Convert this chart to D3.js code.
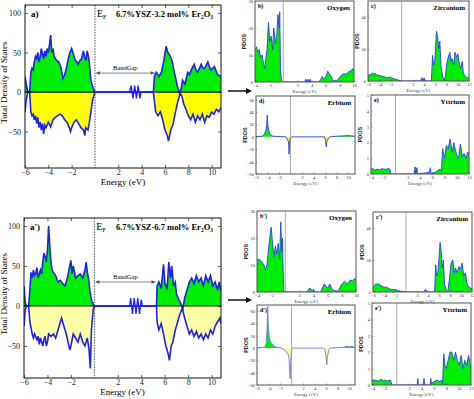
<!DOCTYPE html>
<html>
<head>
<meta charset="utf-8">
<script src="https://cdn.jsdelivr.net/npm/d3@7"></script>
<style>
  body { margin: 0; background: #fff; }
  svg { display: block; }
</style>
</head>
<body>
<svg id="fig" width="474" height="399"></svg>
<script>
// total DOS, 6.7%YSZ-3.2 mol% Er2O3  [energy eV, states]
var aUp = [[-6,20],[-5.9,10],[-5.75,0],[-5.6,0],[-5.5,25],[-5.4,30],[-5.3,28],[-5.2,38],[-5.1,45],[-5,42],[-4.9,50],[-4.8,38],[-4.7,45],[-4.6,55],[-4.5,48],[-4.4,42],[-4.3,52],[-4.2,45],[-4.1,55],[-4,50],[-3.9,60],[-3.8,72],[-3.7,50],[-3.6,55],[-3.5,45],[-3.3,40],[-3.1,38],[-2.9,30],[-2.75,17],[-2.6,22],[-2.45,30],[-2.3,42],[-2.15,50],[-2,55],[-1.85,48],[-1.7,40],[-1.55,38],[-1.45,35],[-1.3,40],[-1.15,42],[-1,52],[-0.9,45],[-0.78,40],[-0.67,52],[-0.5,40],[-0.36,15],[-0.16,5],[0,0],[5.0,0],[5.1,20],[5.25,25],[5.4,22],[5.5,20],[5.7,25],[5.9,40],[6.1,58],[6.25,50],[6.45,45],[6.6,40],[6.8,25],[6.95,15],[7.1,5],[7.25,-2],[7.4,5],[7.5,15],[7.7,10],[7.95,25],[8.1,22],[8.25,28],[8.5,35],[8.65,28],[8.8,25],[9.1,35],[9.25,30],[9.4,30],[9.67,38],[9.8,32],[9.95,28],[10.24,32],[10.5,22],[10.8,20]];
var aDown = [[-6,-25],[-5.9,-10],[-5.75,0],[-5.6,0],[-5.5,-25],[-5.4,-30],[-5.3,-28],[-5.2,-35],[-5.1,-30],[-5,-40],[-4.9,-32],[-4.8,-45],[-4.7,-38],[-4.6,-48],[-4.5,-40],[-4.4,-53],[-4.3,-42],[-4.2,-45],[-4,-38],[-3.8,-44],[-3.6,-35],[-3.4,-32],[-3.2,-30],[-3,-28],[-2.8,-30],[-2.6,-35],[-2.4,-38],[-2.2,-45],[-2.1,-50],[-2,-45],[-1.8,-38],[-1.6,-35],[-1.4,-40],[-1.2,-45],[-1,-48],[-0.87,-55],[-0.8,-45],[-0.6,-48],[-0.5,-40],[-0.35,-25],[-0.2,-10],[0,0],[5.0,0],[5.2,-25],[5.4,-30],[5.6,-25],[5.8,-35],[6.0,-48],[6.2,-55],[6.3,-62],[6.5,-48],[6.7,-40],[6.9,-25],[7.1,-12],[7.3,-2],[7.45,-5],[7.6,-15],[7.8,-22],[8.0,-30],[8.2,-35],[8.4,-28],[8.6,-38],[8.8,-30],[9.0,-35],[9.2,-28],[9.4,-38],[9.6,-30],[9.8,-32],[10.0,-25],[10.2,-28],[10.4,-22],[10.6,-25],[10.8,-20]];
var aWiggle = [[2.95,0],[3.1,8],[3.25,-8],[3.4,8],[3.55,-8],[3.7,8],[3.85,-8],[3.95,0]];

// total DOS, 6.7%YSZ-6.7 mol% Er2O3
var a2Up = [[-6,25],[-5.9,5],[-5.8,0],[-5.6,0],[-5.5,20],[-5.4,42],[-5.3,35],[-5.2,45],[-5.1,38],[-5,40],[-4.9,48],[-4.8,35],[-4.7,40],[-4.6,45],[-4.5,40],[-4.4,55],[-4.3,66],[-4.2,62],[-4.1,55],[-4,70],[-3.9,100],[-3.8,75],[-3.7,55],[-3.6,45],[-3.5,42],[-3.3,38],[-3.1,30],[-2.9,32],[-2.7,28],[-2.5,25],[-2.3,35],[-2.1,50],[-2,57],[-1.9,40],[-1.8,50],[-1.6,35],[-1.4,38],[-1.2,40],[-1,35],[-0.8,45],[-0.7,55],[-0.6,42],[-0.5,35],[-0.35,15],[-0.2,5],[0,0],[5.3,0],[5.35,25],[5.5,30],[5.7,22],[5.9,52],[6.0,30],[6.2,20],[6.35,55],[6.5,35],[6.6,50],[6.75,25],[6.9,30],[7.0,15],[7.2,8],[7.4,2],[7.55,-3],[7.7,10],[7.9,20],[8.1,30],[8.3,35],[8.5,28],[8.7,38],[8.9,30],[9.1,35],[9.3,25],[9.5,38],[9.7,30],[9.9,38],[10.1,25],[10.3,30],[10.5,20],[10.65,30],[10.8,18]];
var a2Down = [[-6,-25],[-5.9,-5],[-5.8,0],[-5.6,0],[-5.5,-20],[-5.3,-35],[-5.2,-40],[-5.1,-35],[-4.9,-42],[-4.8,-38],[-4.7,-48],[-4.6,-40],[-4.5,-45],[-4.4,-50],[-4.3,-42],[-4.2,-38],[-4.1,-50],[-4,-45],[-3.9,-35],[-3.7,-38],[-3.5,-35],[-3.3,-40],[-3.1,-30],[-2.9,-20],[-2.8,-15],[-2.6,-25],[-2.4,-35],[-2.2,-48],[-2.1,-55],[-2,-50],[-1.8,-35],[-1.6,-40],[-1.4,-45],[-1.2,-35],[-1,-45],[-0.8,-50],[-0.6,-40],[-0.45,-55],[-0.35,-78],[-0.25,-30],[-0.1,-5],[0,0],[5.3,0],[5.35,-20],[5.5,-30],[5.7,-22],[5.9,-35],[6.1,-50],[6.3,-60],[6.4,-68],[6.55,-50],[6.7,-45],[6.9,-30],[7.1,-20],[7.3,-10],[7.5,-3],[7.7,-15],[7.9,-25],[8.1,-35],[8.3,-30],[8.5,-38],[8.7,-32],[8.9,-40],[9.1,-35],[9.3,-42],[9.5,-35],[9.7,-40],[9.9,-30],[10.1,-35],[10.3,-25],[10.5,-20],[10.7,-15],[10.8,-22]];
var a2Wiggle = [[3.0,0],[3.1,10],[3.25,-10],[3.4,10],[3.55,-10],[3.7,10],[3.85,-10],[4.0,8],[4.1,0]];

// PDOS panels
var bOxygen = [[-4,12],[-3.8,13],[-3.6,11],[-3.4,12],[-3.2,9],[-3,10],[-2.8,7],[-2.6,5],[-2.5,8],[-2.3,12],[-2.1,22],[-1.9,15],[-1.7,17],[-1.5,12],[-1.35,20],[-1.1,14],[-0.9,18],[-0.75,25],[-0.6,20],[-0.5,26],[-0.4,5],[-0.3,2],[-0.2,0],[3.0,0],[3.2,1],[3.35,0],[3.5,1],[3.65,0],[3.8,1],[3.9,0],[5.0,0],[5.3,1],[5.5,2],[5.7,1],[6.0,2],[6.3,4],[6.5,3],[6.8,2],[7.0,0.5],[7.5,0.5],[7.8,1],[8.0,2],[8.5,3],[9.0,3],[9.3,4],[9.6,4],[9.8,5],[10,4]];
var cZirconium = [[-6,2],[-5.8,4],[-5.5,4],[-5.2,5],[-5,4],[-4.8,5],[-4.5,4],[-4,3.5],[-3.5,3],[-3,2.5],[-2.5,2],[-2,2.5],[-1.8,2],[-1.5,1.5],[-1,1],[-0.5,0.5],[0,0],[3.4,0],[3.6,2],[3.8,0],[4.0,2],[4.2,0],[5.3,0],[5.5,16],[5.7,10],[5.9,12],[6.2,31],[6.4,28],[6.6,20],[6.8,25],[7.0,10],[7.2,5],[7.4,2],[7.6,0.5],[7.8,3],[8.0,10],[8.3,15],[8.6,18],[8.8,12],[9.0,14],[9.3,10],[9.5,18],[9.8,15],[10.0,17],[10.2,12],[10.5,8],[10.8,12],[11.0,5],[11.3,3],[11.6,2],[12,2]];
var dErbium = [[-6,0.5],[-5,1],[-4.7,2],[-4.5,5],[-4.3,10],[-4.15,18],[-4.05,35],[-3.95,20],[-3.8,10],[-3.6,5],[-3.3,2],[-3,1],[-2,0.5],[-0.8,0],[-0.7,-2],[-0.5,-5],[-0.35,-8],[-0.25,-28],[-0.15,-6],[0,-2],[0.2,0],[5.9,0],[6.0,-3],[6.1,-8],[6.2,-16],[6.3,-8],[6.45,-5],[6.6,-2],[6.8,0],[8.0,1],[9.0,1.5],[10.0,2],[11.2,1]];
var eYttrium = [[-4,0.3],[-3.7,0.35],[-3.4,0.25],[-3,0.3],[-2.5,0.25],[-2.2,0.35],[-1.9,0.3],[-1.5,0.3],[-1.1,0.35],[-0.9,0.3],[-0.8,0],[3.0,0],[3.2,0.45],[3.3,0],[3.5,0.4],[3.6,0],[5.5,0.1],[5.7,0.4],[5.8,0.05],[6.5,0.1],[7.0,0.25],[7.3,0.3],[7.5,0.2],[7.7,1.6],[8.0,1.0],[8.3,1.8],[8.6,1.6],[8.9,2.2],[9.1,1.8],[9.3,1.4],[9.5,2.0],[9.8,1.5],[10.0,1.2],[10.3,1.0],[10.6,1.9],[10.9,1.1],[11.2,1.3],[11.5,1.0],[11.8,1.4],[12,1.2]];
var b2Oxygen = [[-4,12],[-3.6,12],[-3.3,11],[-3,10],[-2.8,8],[-2.6,10],[-2.4,15],[-2.2,20],[-2.0,24],[-1.8,18],[-1.6,13],[-1.4,17],[-1.2,14],[-1.0,18],[-0.8,12],[-0.64,26],[-0.5,15],[-0.4,20],[-0.3,8],[-0.2,0],[3.0,0],[3.2,0.5],[3.5,1.5],[3.8,0.5],[4.0,1],[4.2,0],[5.0,0],[5.5,3],[5.8,2],[6.0,1.5],[6.3,3],[6.6,1],[7.0,0.5],[7.5,0.3],[7.8,2],[8.0,3],[8.4,4],[8.8,3],[9.2,4.5],[9.5,4],[9.8,5],[10,4.5]];
var c2Zirconium = [[-6,2],[-5.8,4],[-5.5,5],[-5,5],[-4.5,4],[-4,3],[-3.5,3],[-3,2],[-2.5,1.5],[-2,1.5],[-1.5,1],[-1,0.5],[0,0],[3.2,0],[3.5,1.5],[4.0,0],[5.2,0],[5.4,17],[5.6,10],[5.8,12],[6.2,31],[6.4,25],[6.6,15],[6.8,20],[7.0,5],[7.3,1],[7.6,0.5],[7.9,8],[8.2,18],[8.5,20],[8.8,12],[9.0,15],[9.3,12],[9.6,16],[9.9,14],[10.2,18],[10.5,10],[10.8,12],[11.1,5],[11.4,3],[12,2]];
var d2Erbium = [[-6,0.5],[-5,1],[-4.6,2],[-4.4,8],[-4.25,30],[-4.15,68],[-4.05,40],[-3.9,20],[-3.7,12],[-3.5,8],[-3.2,5],[-3,3],[-2.5,1],[-2,0.5],[-1.5,-1],[-1.2,-3],[-1.0,-5],[-0.8,-8],[-0.6,-10],[-0.45,-15],[-0.35,-35],[-0.25,-50],[-0.15,-20],[0,-5],[0.1,0],[5.6,0],[5.8,-3],[6.0,-15],[6.1,-27],[6.2,-15],[6.4,-5],[6.6,-1],[6.8,0],[9.0,1],[9.5,3],[10.0,2],[10.5,3],[11,1]];
var e2Yttrium = [[-4,0.3],[-3.5,0.3],[-3,0.25],[-2.5,0.35],[-2.2,0.25],[-2,0.3],[-1.5,0.25],[-1.2,0.3],[-1,0.3],[-0.8,0],[3.3,0],[3.4,0.4],[3.5,0],[4.3,0],[4.4,0.4],[4.5,0],[5.4,0],[5.5,0.4],[5.6,0.1],[6.0,0.2],[6.5,0.3],[7.0,0.2],[7.2,0.3],[7.4,0.1],[7.6,1.9],[7.8,1.2],[8.0,1.0],[8.3,1.5],[8.6,2.0],[8.9,2.0],[9.2,1.5],[9.5,2.0],[9.8,1.5],[10.1,1.2],[10.4,1.8],[10.7,1.0],[11.0,1.5],[11.3,1.2],[11.6,1.8],[12,1.0]];

// tick labels
var bigTicksX = [-6,-4,-2,2,4,6,8,10];
var bigTicksY = [-50,0,50,100];
var oxyTicksX = [-4,-2,2,4,6,8,10];
var zrTicksX = [-6,-4,-2,2,4,6,8,10,12];
var erTicksX = [-6,-4,-2,2,4,6,8,10];
var yTicksX = [-4,-2,2,4,6,8,10,12];
var oxyTicksY = [0,10,20,30];
var zrTicksY = [0,20,40];
var erTicksY = [-60,-40,-20,0,20,40,60];
var yTicksY = [0,1,2,3,4,5];

var svg = d3.select('#fig');
var serif = 'Liberation Serif, Times New Roman, serif';
var BLUE = '#1f22e6', GREEN = '#00ee00';

function ticksAxis(g, axis, fs) {
      g.call(axis);
      g.select('.domain').remove();
      g.selectAll('line').attr('stroke', '#222').attr('stroke-width', 0.7);
      g.selectAll('text').attr('font-family', serif).attr('font-size', fs).attr('fill', '#222');
}

function drawBig(c) {
      var x = d3.scaleLinear().domain(c.xDom).range([c.left, c.right]);
      var y = d3.scaleLinear().domain(c.yDom).range([c.bottom, c.top]);
      var g = svg.append('g');
      var clip = 'clip' + c.id;
      g.append('clipPath').attr('id', clip).append('rect')
            .attr('x', c.left).attr('y', c.top).attr('width', c.right - c.left).attr('height', c.bottom - c.top);
      var plot = g.append('g').attr('clip-path', 'url(#' + clip + ')');
      var area = d3.area().x(function (d) { return x(d[0]); }).y0(y(0)).y1(function (d) { return y(d[1]); });
      var line = d3.line().x(function (d) { return x(d[0]); }).y(function (d) { return y(d[1]); });
      plot.append('path').attr('d', area(c.up)).attr('fill', GREEN);
      plot.append('path').attr('d', area(c.down)).attr('fill', c.downFill);
      plot.append('path').attr('d', line(c.up)).attr('fill', 'none').attr('stroke', BLUE).attr('stroke-width', 1.6);
      plot.append('path').attr('d', line(c.down)).attr('fill', 'none').attr('stroke', BLUE).attr('stroke-width', 1.6);
      plot.append('path').attr('d', line(c.wig)).attr('fill', 'none').attr('stroke', BLUE).attr('stroke-width', 1.3);
      // zero line: black over the bands, blue across the gap
      plot.append('line').attr('x1', x(c.xDom[0])).attr('x2', x(0)).attr('y1', y(0)).attr('y2', y(0))
            .attr('stroke', '#111').attr('stroke-width', 1.2);
      plot.append('line').attr('x1', x(0)).attr('x2', x(c.gapEnd)).attr('y1', y(0)).attr('y2', y(0))
            .attr('stroke', BLUE).attr('stroke-width', 1.2);
      plot.append('line').attr('x1', x(c.gapEnd)).attr('x2', x(c.xDom[1])).attr('y1', y(0)).attr('y2', y(0))
            .attr('stroke', '#111').attr('stroke-width', 1.2);
      // fermi level
      g.append('line').attr('x1', x(0)).attr('x2', x(0)).attr('y1', c.top).attr('y2', c.bottom)
            .attr('stroke', '#222').attr('stroke-width', 0.8).attr('stroke-dasharray', '1.5,1.2');
      // axes
      ticksAxis(g.append('g').attr('transform', 'translate(0,' + c.bottom + ')'),
            d3.axisBottom(x).tickValues(bigTicksX).tickSize(-3).tickPadding(1.5).tickFormat(d3.format('d')), 8);
      ticksAxis(g.append('g').attr('transform', 'translate(0,' + c.top + ')'),
            d3.axisTop(x).tickValues(bigTicksX).tickSize(-3).tickFormat(''), 8);
      ticksAxis(g.append('g').attr('transform', 'translate(' + c.left + ',0)'),
            d3.axisLeft(y).tickValues(bigTicksY).tickSize(-3).tickPadding(4).tickFormat(d3.format('d')), 8);
      ticksAxis(g.append('g').attr('transform', 'translate(' + c.right + ',0)'),
            d3.axisRight(y).tickValues(bigTicksY).tickSize(-3).tickFormat(''), 8);
      g.append('rect').attr('x', c.left).attr('y', c.top).attr('width', c.right - c.left).attr('height', c.bottom - c.top)
            .attr('fill', 'none').attr('stroke', '#111').attr('stroke-width', 1);
      // labels
      g.append('text').attr('x', (c.left + c.right) / 2).attr('y', c.bottom + 17).attr('text-anchor', 'middle')
            .attr('font-family', serif).attr('font-size', 9).text('Energy (eV)');
      g.append('text').attr('transform', 'translate(7,' + ((c.top + c.bottom) / 2 - 4) + ') rotate(-90)')
            .attr('text-anchor', 'middle').attr('font-family', serif).attr('font-size', 9).text('Total Density of States');
      g.append('text').attr('x', c.left + 6).attr('y', c.top + 12).attr('font-family', serif)
            .attr('font-size', 9).attr('font-weight', 'bold').text(c.label);
      var ef = g.append('text').attr('x', x(0) + 2).attr('y', c.top + 12).attr('font-family', serif).attr('font-size', 10);
      ef.append('tspan').text('E');
      ef.append('tspan').attr('font-size', 6).attr('dy', 2).text('F');
      var t = g.append('text').attr('x', c.right - 8).attr('y', c.top + 12).attr('text-anchor', 'end')
            .attr('font-family', serif).attr('font-size', 8.5).attr('font-weight', 'bold');
      t.append('tspan').text(c.title + ' Er');
      t.append('tspan').attr('font-size', 5.5).attr('dy', 2).text('2');
      t.append('tspan').attr('dy', -2).text('O');
      t.append('tspan').attr('font-size', 5.5).attr('dy', 2).text('3');
      // band gap arrow
      var by = y(c.bandY), xa = x(0) + 1, xb = x(c.gapEnd) - 1;
      g.append('line').attr('x1', xa).attr('x2', xb).attr('y1', by).attr('y2', by).attr('stroke', '#555').attr('stroke-width', 0.7);
      g.append('path').attr('d', 'M' + xa + ',' + by + 'l4,-1.8v3.6z M' + xb + ',' + by + 'l-4,-1.8v3.6z').attr('fill', '#555');
      g.append('text').attr('x', (xa + xb) / 2).attr('y', by - 3).attr('text-anchor', 'middle')
            .attr('font-family', serif).attr('font-size', 6.5).text('BandGap');
}

function drawSmall(c) {
      var x = d3.scaleLinear().domain(c.xDom).range([c.left, c.right]);
      var y = d3.scaleLinear().domain(c.yDom).range([c.bottom, c.top]);
      var g = svg.append('g');
      var clip = 'clip' + c.id;
      g.append('clipPath').attr('id', clip).append('rect')
            .attr('x', c.left).attr('y', c.top).attr('width', c.right - c.left).attr('height', c.bottom - c.top);
      var plot = g.append('g').attr('clip-path', 'url(#' + clip + ')');
      var pos = d3.area().x(function (d) { return x(d[0]); }).y0(y(0)).y1(function (d) { return y(Math.max(0, d[1])); });
      var neg = d3.area().x(function (d) { return x(d[0]); }).y0(y(0)).y1(function (d) { return y(Math.min(0, d[1])); });
      var line = d3.line().x(function (d) { return x(d[0]); }).y(function (d) { return y(d[1]); });
      plot.append('line').attr('x1', x(0)).attr('x2', x(0)).attr('y1', c.top).attr('y2', c.bottom)
            .attr('stroke', '#aaa').attr('stroke-width', 1);
      plot.append('path').attr('d', pos(c.data)).attr('fill', GREEN);
      plot.append('path').attr('d', neg(c.data)).attr('fill', c.negFill || GREEN);
      plot.append('path').attr('d', line(c.data)).attr('fill', 'none').attr('stroke', c.stroke || '#2a3cf0').attr('stroke-width', 0.9);
      var ax = g.append('g').attr('transform', 'translate(0,' + c.bottom + ')');
      ax.call(d3.axisBottom(x).tickValues(c.ticksX).tickSize(-1.5).tickPadding(2).tickFormat(d3.format('d')));
      var ay = g.append('g').attr('transform', 'translate(' + c.left + ',0)');
      ay.call(d3.axisLeft(y).tickValues(c.ticksY).tickSize(-1.5).tickPadding(2).tickFormat(d3.format('d')));
      [ax, ay].forEach(function (a) {
            a.select('.domain').remove();
            a.selectAll('line').attr('stroke', '#444').attr('stroke-width', 0.5);
            a.selectAll('text').attr('font-family', serif).attr('font-size', 4.5).attr('fill', '#333');
      });
      g.append('rect').attr('x', c.left).attr('y', c.top).attr('width', c.right - c.left).attr('height', c.bottom - c.top)
            .attr('fill', 'none').attr('stroke', '#555').attr('stroke-width', 1);
      g.append('text').attr('x', (c.left + c.right) / 2).attr('y', c.bottom + 11).attr('text-anchor', 'middle')
            .attr('font-family', serif).attr('font-size', 4.8).attr('fill', '#333').text('Energy (eV)');
      g.append('text').attr('transform', 'translate(' + (c.left - 9) + ',' + ((c.top + c.bottom) / 2) + ') rotate(-90)')
            .attr('text-anchor', 'middle').attr('font-family', 'Liberation Sans, Arial, sans-serif')
            .attr('font-size', 5.5).attr('font-weight', 'bold').attr('fill', '#222').text('PDOS');
      g.append('text').attr('x', c.left + 3).attr('y', c.top + 7).attr('font-family', serif)
            .attr('font-size', 6).attr('font-weight', 'bold').text(c.label);
      g.append('text').attr('x', c.right - 4).attr('y', c.top + 9).attr('text-anchor', 'end').attr('font-family', serif)
            .attr('font-size', 7).attr('font-weight', 'bold').text(c.name);
}

drawBig({ id: 'a', left: 25, right: 221, top: 5, bottom: 168, xDom: [-6, 10.8], yDom: [-96, 110],
      up: aUp, down: aDown, wig: aWiggle, downFill: '#ffff00', gapEnd: 5.2, bandY: 24,
      label: 'a)', title: '6.7%YSZ-3.2 mol%' });
drawBig({ id: 'a2', left: 24, right: 221, top: 218, bottom: 378, xDom: [-6, 10.8], yDom: [-90, 110],
      up: a2Up, down: a2Down, wig: a2Wiggle, downFill: '#ffffa6', gapEnd: 5.3, bandY: 30,
      label: "a')", title: '6.7%YSZ-6.7 mol%' });

drawSmall({ id: 'b', left: 255, right: 354, top: 1, bottom: 82, xDom: [-4, 10], yDom: [0, 30],
      data: bOxygen, ticksX: oxyTicksX, ticksY: oxyTicksY, label: 'b)', name: 'Oxygen' });
drawSmall({ id: 'c', left: 368, right: 469, top: 1, bottom: 81, xDom: [-6, 12], yDom: [0, 50],
      data: cZirconium, ticksX: zrTicksX, ticksY: zrTicksY, label: 'c)', name: 'Zirconium' });
drawSmall({ id: 'd', left: 256, right: 355, top: 96, bottom: 174, xDom: [-6, 11.2], yDom: [-60, 66],
      data: dErbium, ticksX: erTicksX, ticksY: erTicksY, label: 'd)', name: 'Erbium', negFill: '#ffff00' });
drawSmall({ id: 'e', left: 371, right: 469, top: 95, bottom: 174, xDom: [-4, 12], yDom: [0, 5],
      data: eYttrium, ticksX: yTicksX, ticksY: yTicksY, label: 'e)', name: 'Yttrium' });
drawSmall({ id: 'b2', left: 257, right: 356, top: 211, bottom: 292, xDom: [-4, 10], yDom: [0, 30],
      data: b2Oxygen, ticksX: oxyTicksX, ticksY: oxyTicksY, label: "b')", name: 'Oxygen' });
drawSmall({ id: 'c2', left: 373, right: 472, top: 212, bottom: 292, xDom: [-6, 12], yDom: [0, 50],
      data: c2Zirconium, ticksX: zrTicksX, ticksY: zrTicksY, label: "c')", name: 'Zirconium' });
drawSmall({ id: 'd2', left: 257, right: 355, top: 305, bottom: 385, xDom: [-6, 11], yDom: [-60, 70],
      data: d2Erbium, ticksX: erTicksX, ticksY: erTicksY, label: "d')", name: 'Erbium', negFill: '#ffffa6', stroke: '#6f7bd8' });
drawSmall({ id: 'e2', left: 372, right: 471, top: 303, bottom: 385, xDom: [-4, 12], yDom: [0, 5],
      data: e2Yttrium, ticksX: yTicksX, ticksY: yTicksY, label: "e')", name: 'Yttrium' });

// arrows from the total DOS to the PDOS panels
[91, 300].forEach(function (yy) {
      svg.append('line').attr('x1', 228).attr('x2', 247).attr('y1', yy).attr('y2', yy).attr('stroke', '#111').attr('stroke-width', 1.5);
      svg.append('path').attr('d', 'M252,' + yy + 'l-6,-3v6z').attr('fill', '#111');
});
</script>
</body>
</html>
